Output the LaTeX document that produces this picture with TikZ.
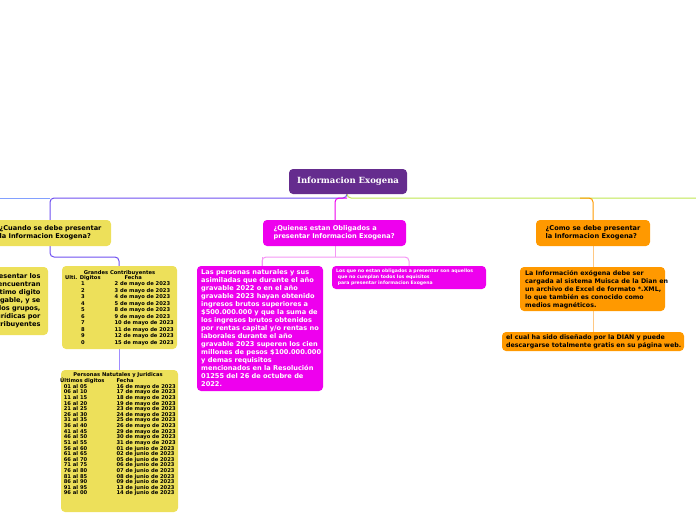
\documentclass[tikz,border=0pt]{standalone}
\usepackage{fontspec}
\setmainfont{DejaVu Sans}
\newfontfamily\rootfont{DejaVu Serif}
\begin{document}
\begin{tikzpicture}[x=1pt,y=-1pt,
  box/.style={rounded corners=3pt,inner sep=0pt,font=\bfseries},
  conn/.style={line width=1pt,rounded corners=4pt}]
\useasboundingbox (0,0) rectangle (696,520);
\definecolor{yel}{HTML}{EDE05A}
\definecolor{mag}{HTML}{EE00EE}
\definecolor{org}{HTML}{FF9900}
\definecolor{pur}{HTML}{652C8E}
% connectors
\draw[conn,draw={rgb,255:red,130;green,160;blue,255}] (0,198) -- (50,198);
\draw[conn,draw={rgb,255:red,110;green,80;blue,240}] (347,194) |- (50,198) -- (50,257) -| (119,267);
\draw[conn,draw={rgb,255:red,160;green,140;blue,255}] (119,349) -- (119,370);
\draw[conn,draw={rgb,255:red,190;green,230;blue,80}] (347,194) |- (696,198);
\draw[conn,draw=mag] (347,198) -| (335,220);
\draw[conn,draw={rgb,255:red,245;green,150;blue,245}] (335,246) -- (335,257);
\draw[conn,draw={rgb,255:red,245;green,150;blue,245}] (262,266) |- (409,257) -- (409,266);
\draw[conn,draw={rgb,255:red,245;green,150;blue,245}] (262,257) -- (262,266);
\draw[conn,draw=org] (580,198) -| (593,220);
\draw[conn,draw={rgb,255:red,255;green,200;blue,130}] (593,246) -- (593,267);
\draw[conn,draw={rgb,255:red,255;green,200;blue,130}] (593,311) -- (593,332);
% boxes
\fill[pur,rounded corners=4pt] (289,169) rectangle (407,194);
\node[text=white,font=\rootfont\bfseries\fontsize{8.5}{10}\selectfont] (root) at (348,181.5) {Informacion Exogena};

\fill[yel,rounded corners=4pt] (-20,220) rectangle (111,246);
\node[anchor=east,align=left,font=\bfseries\fontsize{6.6}{8}\selectfont] (q1) at (105,233) {¿Cuando se debe presentar\\la Informacion Exogena?};

\fill[mag,rounded corners=4pt] (263,220) rectangle (406,246);
\node[anchor=west,align=left,text=white,font=\bfseries\fontsize{6.6}{8}\selectfont] (q2) at (270,233) {¿Quienes estan Obligados a\\presentar Informacion Exogena?};

\fill[org,rounded corners=4pt] (536,220) rectangle (650,246);
\node[align=left,font=\bfseries\fontsize{6.6}{8}\selectfont] (q3) at (593,233) {¿Como se debe presentar\\la Informacion Exogena?};

\fill[yel,rounded corners=4pt] (-20,267) rectangle (48,335);
\node[anchor=east,align=right,font=\bfseries\fontsize{6.6}{8}\selectfont] (lt) at (44,301) {Se deben presentar los\\ que se encuentran\\según el último digito\\del NIT del obligable, y se\\dividen en dos grupos,\\Personas Naturales y Jurídicas por\\y Grandes Contribuyentes};

\fill[yel,rounded corners=4pt] (62,266) rectangle (177,349);
\node[font=\bfseries\fontsize{5.2}{6.5}\selectfont,inner sep=0pt] (gc) at (119.5,308) {%
\begin{tabular}{@{}c@{\hspace{14pt}}l@{}}
\multicolumn{2}{c}{Grandes Contribuyentes}\\[-1.2pt]
Ulti. Digitos & \hspace{10pt}Fecha\\
1&2 de mayo de 2023\\ 2&3 de mayo de 2023\\ 3&4 de mayo de 2023\\ 4&5 de mayo de 2023\\
5&8 de mayo de 2023\\ 6&9 de mayo de 2023\\ 7&10 de mayo de 2023\\ 8&11 de mayo de 2023\\
9&12 de mayo de 2023\\ 0&15 de mayo de 2023
\end{tabular}};

\fill[yel,rounded corners=4pt] (61,370) rectangle (178,512);
\node[anchor=north,font=\bfseries\fontsize{5.2}{6.3}\selectfont,inner sep=0pt] (pn) at (118,372) {%
\renewcommand{\arraystretch}{0.88}%
\begin{tabular}{@{}l@{\hspace{12pt}}l@{}}
\multicolumn{2}{c}{Personas Natutales y Juridicas}\\
Últimos digitos & Fecha\\
\ \ 01 al 05&16 de mayo de 2023\\ \ \ 06 al 10&17 de mayo de 2023\\ \ \ 11 al 15&18 de mayo de 2023\\
\ \ 16 al 20&19 de mayo de 2023\\ \ \ 21 al 25&23 de mayo de 2023\\ \ \ 26 al 30&24 de mayo de 2023\\
\ \ 31 al 35&25 de mayo de 2023\\ \ \ 36 al 40&26 de mayo de 2023\\ \ \ 41 al 45&29 de mayo de 2023\\
\ \ 46 al 50&30 de mayo de 2023\\ \ \ 51 al 55&31 de mayo de 2023\\ \ \ 56 al 60&01 de junio de 2023\\
\ \ 61 al 65&02 de junio de 2023\\ \ \ 66 al 70&05 de junio de 2023\\ \ \ 71 al 75&06 de junio de 2023\\
\ \ 76 al 80&07 de junio de 2023\\ \ \ 81 al 85&08 de junio de 2023\\ \ \ 86 al 90&09 de junio de 2023\\
\ \ 91 al 95&13 de junio de 2023\\ \ \ 96 al 00&14 de junio de 2023
\end{tabular}};

\fill[mag,rounded corners=4pt] (197,266) rectangle (323,391);
\node[anchor=north west,align=left,text=white,font=\bfseries\fontsize{6.6}{8.05}\selectfont,inner sep=0pt] (big) at (201,269) {Las personas naturales y sus\\asimiladas que durante el año\\gravable 2022 o en el año\\gravable 2023 hayan obtenido\\ingresos brutos superiores a\\\$500.000.000 y que la suma de\\los ingresos brutos obtenidos\\por rentas capital y/o rentas no\\laborales durante el año\\gravable 2023 superen los cien\\millones de pesos \$100.000.000\\y demas requisitos\\mencionados en la Resolución\\01255 del 26 de octubre de\\2022.};

\fill[mag,rounded corners=4pt] (332,266) rectangle (486,289);
\node[anchor=north west,align=left,text=white,font=\bfseries\fontsize{4.6}{5.9}\selectfont,inner sep=0pt] (small) at (336,269) {Los que no estan obligados a presentar son aquellos\\\ que no cumplan todos los equisitos\\\ para presentar informacion Exogena};

\fill[org,rounded corners=4pt] (520,267) rectangle (665,311);
\node[anchor=north west,align=left,font=\bfseries\fontsize{6.3}{8.1}\selectfont,inner sep=0pt] (o1) at (525,270) {La Información exógena debe ser\\cargada al sistema Muisca de la Dian en\\un archivo de Excel de formato *.XML,\\lo que también es conocido como\\medios magnéticos.};

\fill[org,rounded corners=4pt] (502,332) rectangle (684,351);
\node[anchor=west,align=left,font=\bfseries\fontsize{6.3}{8.1}\selectfont,inner sep=0pt] (o2) at (506,341.5) {el cual ha sido diseñado por la DIAN y puede\\descargarse totalmente gratis en su página web.};
\end{tikzpicture}
\end{document}
